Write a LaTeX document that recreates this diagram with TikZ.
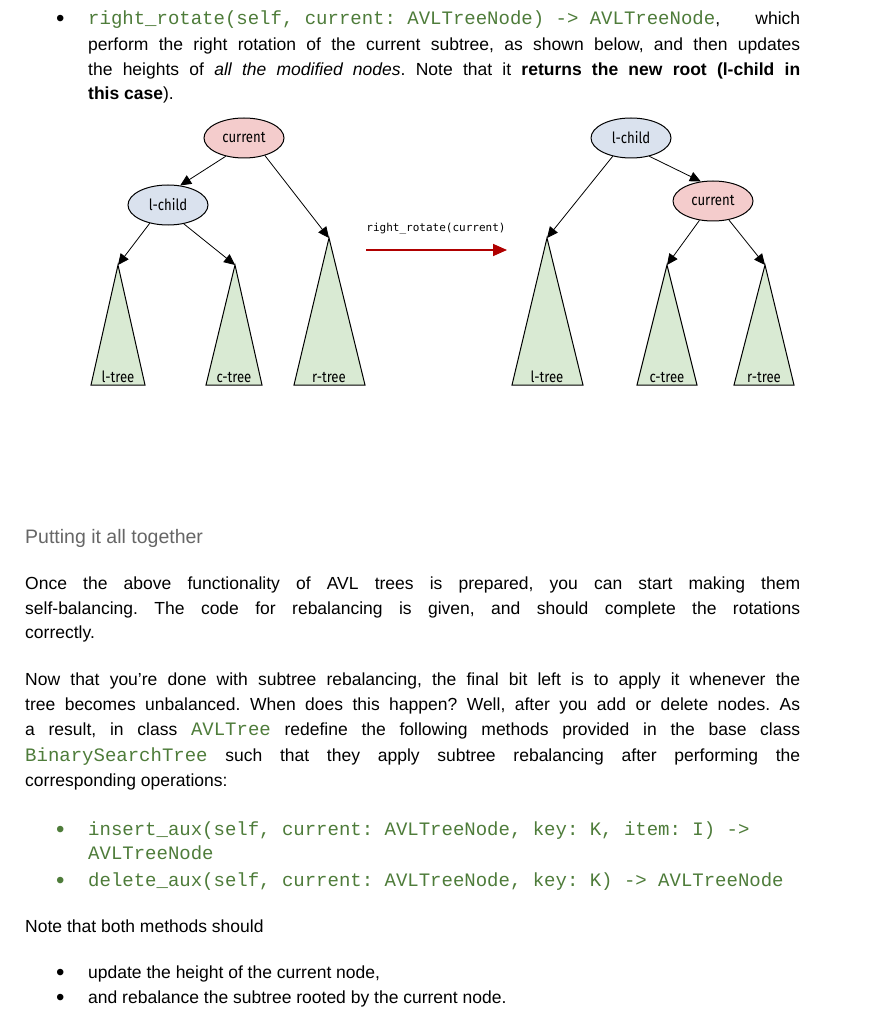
\documentclass[tikz,border=0pt]{standalone}
\usepackage{fontspec}
\setmainfont{Liberation Sans}
\setmonofont{Liberation Mono}
\newfontfamily\diag[FakeStretch=0.85]{Fira Sans}
\newfontfamily\dmono{DejaVu Sans Mono}
\usetikzlibrary{arrows.meta,shapes.geometric}
\definecolor{codegreen}{RGB}{78,124,58}
\definecolor{pinkfill}{RGB}{244,204,204}
\definecolor{bluefill}{RGB}{218,226,238}
\definecolor{greenfill}{RGB}{217,234,211}
\definecolor{headgray}{RGB}{102,102,102}
\definecolor{arrowred}{RGB}{176,0,0}
\newcommand{\cd}[1]{{\ttfamily\fontsize{19}{21}\selectfont\color{codegreen}#1}}
\newcommand{\bigbul}{{\fontsize{24}{21}\selectfont\textbullet}}
\begin{document}
\frenchspacing
\begin{tikzpicture}[x=1pt,y=-1pt,
  txt/.style={anchor=base west,inner sep=0pt,font=\fontsize{17.5}{21}\selectfont\frenchspacing},
  bul/.style={anchor=base west,inner sep=0pt,font=\fontsize{17.5}{21}\selectfont},
  treenode/.style={ellipse,draw,line width=1pt,minimum width=80pt,minimum height=40pt,inner sep=0pt,font=\diag\fontsize{15.5}{17}\selectfont},
  cur/.style={treenode,fill=pinkfill},
  lch/.style={treenode,fill=bluefill},
  subtree/.style={draw,line width=1pt,fill=greenfill},
  tlabel/.style={anchor=base,inner sep=0pt,font=\diag\fontsize{15.5}{17}\selectfont},
  edge/.style={-{Triangle[length=11pt,width=10pt]},line width=0.8pt}]
\useasboundingbox (0,0) rectangle (870,1024);
\fill[white] (0,0) rectangle (870,1024);
% top bullet text
\node[bul] (b1) at (56,27) {\bigbul};
\node[txt] (t1) at (88,25) {\makebox[712pt][s]{\cd{right\_rotate(self, current: AVLTreeNode) -> AVLTreeNode}, which}};
\node[txt] (t2) at (88,51) {\makebox[712pt][s]{perform the right rotation of the current subtree, as shown below, and then updates}};
\node[txt] (t3) at (88,76) {\makebox[712pt][s]{the heights of \emph{all the modified nodes}. Note that it \textbf{returns the new root (l-child in}}};
\node[txt] (t4) at (88,100) {\textbf{this case}).};
% left tree
\node[cur] (c1) at (244,138) {current};
\node[lch] (l1) at (168,205) {l-child};
\draw[subtree] (118,265) coordinate (ta1) -- (145,385) -- (91,385) -- cycle;
\draw[subtree] (235,265) coordinate (ta2) -- (262,385) -- (206,385) -- cycle;
\draw[subtree] (329,238) coordinate (ta3) -- (365,385) -- (294,385) -- cycle;
\node[tlabel] (lt1) at (118,382) {l-tree};
\node[tlabel] (ct1) at (234,382) {c-tree};
\node[tlabel] (rt1) at (329,382) {r-tree};
\draw[edge] (c1.225) -- (l1.58);
\draw[edge] (c1.-40) -- (ta3);
\draw[edge] (l1.-135) -- (ta1);
\draw[edge] (l1.-50) -- (ta2);
% rotation arrow
\node[inner sep=0pt,font=\dmono\fontsize{11}{12}\selectfont] (rl) at (436,229) {right\_rotate(current)};
\coordinate (ra) at (366,250);
\coordinate (rb) at (507,250);
\draw[arrowred,line width=1.6pt,-{Triangle[length=14pt,width=12pt]}] (ra) -- (rb);
% right tree
\node[lch] (l2) at (631,138) {l-child};
\node[cur] (c2) at (713,201) {current};
\draw[subtree] (547,238) coordinate (tb1) -- (583,385) -- (512,385) -- cycle;
\draw[subtree] (667,265) coordinate (tb2) -- (697,385) -- (637,385) -- cycle;
\draw[subtree] (765,265) coordinate (tb3) -- (794,385) -- (734,385) -- cycle;
\node[tlabel] (lt2) at (547,382) {l-tree};
\node[tlabel] (ct2) at (667,382) {c-tree};
\node[tlabel] (rt2) at (764,382) {r-tree};
\draw[edge] (l2.-135) -- (tb1);
\draw[edge] (l2.-45) -- (c2.122);
\draw[edge] (c2.-125) -- (tb2);
\draw[edge] (c2.-50) -- (tb3);
% heading
\node[txt,font=\fontsize{19.5}{23}\selectfont,text=headgray] (h) at (25,543) {Putting it all together};
% paragraph 1
\node[txt] (p1) at (25,589) {\makebox[775pt][s]{Once the above functionality of AVL trees is prepared, you can start making them}};
\node[txt] (p2) at (25,614) {\makebox[775pt][s]{self-balancing. The code for rebalancing is given, and should complete the rotations}};
\node[txt] (p3) at (25,638) {correctly.};
% paragraph 2
\node[txt] (q1) at (25,685) {\makebox[775pt][s]{Now that you're done with subtree rebalancing, the final bit left is to apply it whenever the}};
\node[txt] (q2) at (25,710) {\makebox[775pt][s]{tree becomes unbalanced. When does this happen? Well, after you add or delete nodes. As}};
\node[txt] (q3) at (25,735) {\makebox[775pt][s]{a result, in class \cd{AVLTree} redefine the following methods provided in the base class}};
\node[txt] (q4) at (25,761) {\makebox[775pt][s]{\cd{BinarySearchTree} such that they apply subtree rebalancing after performing the}};
\node[txt] (q5) at (25,786) {corresponding operations:};
% code bullets
\node[bul,text=codegreen] (b2) at (56,837) {\bigbul};
\node[txt] (m1) at (88,835) {\cd{insert\_aux(self, current: AVLTreeNode, key: K, item: I) ->}};
\node[txt] (m2) at (88,859) {\cd{AVLTreeNode}};
\node[bul,text=codegreen] (b3) at (56,888) {\bigbul};
\node[txt] (m3) at (88,886) {\cd{delete\_aux(self, current: AVLTreeNode, key: K) -> AVLTreeNode}};
% note
\node[txt] (n) at (25,932) {Note that both methods should};
\node[bul] (b4) at (56,980) {\bigbul};
\node[txt] (n1) at (88,978) {update the height of the current node,};
\node[bul] (b5) at (56,1005) {\bigbul};
\node[txt] (n2) at (88,1003) {and rebalance the subtree rooted by the current node.};
\end{tikzpicture}
\end{document}
